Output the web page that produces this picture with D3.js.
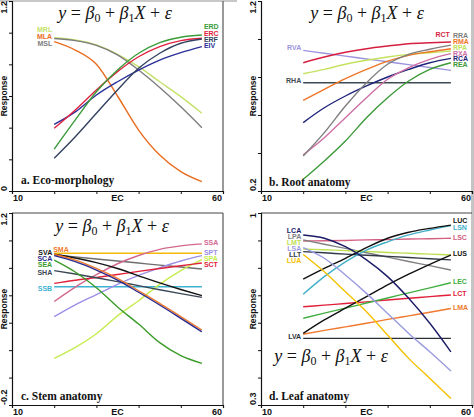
<!DOCTYPE html>
<html><head><meta charset="utf-8">
<script src="https://cdn.jsdelivr.net/npm/d3@7"></script>
<style>body{margin:0;background:#fff}svg{display:block}</style>
</head><body>
<svg id="c" width="474" height="417"></svg>
<script>
// ---------- DATA ----------
const ecPoints = [20, 25, 30, 35, 40, 45, 50, 55];
const xTicks = [10, 20, 30, 40, 50, 60];
const xTickLabels = ["10", "EC", "60"];

const ecoSeries = {
  MRL: [0.968, 0.954, 0.922, 0.863, 0.785, 0.690, 0.596, 0.491],
  MSL: [0.963, 0.950, 0.920, 0.860, 0.764, 0.654, 0.532, 0.400],
  MLA: [0.943, 0.890, 0.800, 0.600, 0.385, 0.227, 0.122, 0.059],
  EIV: [0.421, 0.500, 0.606, 0.690, 0.764, 0.827, 0.874, 0.912],
  ERC: [0.396, 0.512, 0.638, 0.754, 0.848, 0.912, 0.950, 0.965],
  ERF: [0.207, 0.343, 0.491, 0.638, 0.775, 0.870, 0.933, 0.960],
  ERD: [0.265, 0.449, 0.627, 0.764, 0.870, 0.937, 0.971, 0.985]
};
const rootSeries = {
  RVA: [0.940, 0.925, 0.910, 0.895, 0.880, 0.865, 0.850, 0.835],
  RHA: [0.770, 0.770, 0.770, 0.770, 0.770, 0.770, 0.770, 0.770],
  RPA: [0.817, 0.840, 0.867, 0.888, 0.905, 0.919, 0.928, 0.937],
  RMA: [0.677, 0.735, 0.791, 0.840, 0.884, 0.914, 0.933, 0.949],
  RCA: [0.560, 0.638, 0.700, 0.753, 0.800, 0.840, 0.875, 0.898],
  RXA: [0.390, 0.480, 0.586, 0.691, 0.788, 0.849, 0.893, 0.923],
  RRA: [0.384, 0.507, 0.647, 0.770, 0.867, 0.919, 0.946, 0.968],
  REA: [0.261, 0.358, 0.463, 0.586, 0.691, 0.779, 0.840, 0.875],
  RCT: [0.875, 0.905, 0.930, 0.949, 0.963, 0.975, 0.980, 0.984]
};
const stemSeries = {
  SSB: [0.662, 0.662, 0.662, 0.662, 0.662, 0.662, 0.662, 0.662],
  SGL: [0.906, 0.906, 0.906, 0.906, 0.906, 0.906, 0.906, 0.906],
  SGR: [0.894, 0.880, 0.865, 0.850, 0.835, 0.820, 0.806, 0.792],
  SSA: [0.555, 0.660, 0.750, 0.830, 0.890, 0.935, 0.960, 0.975],
  SPT: [0.444, 0.530, 0.605, 0.680, 0.745, 0.800, 0.850, 0.889],
  SPA: [0.140, 0.220, 0.320, 0.450, 0.560, 0.680, 0.780, 0.860],
  SCT: [0.687, 0.710, 0.730, 0.752, 0.774, 0.795, 0.815, 0.835],
  SHA: [0.780, 0.755, 0.728, 0.700, 0.670, 0.640, 0.612, 0.585],
  SVA: [0.899, 0.872, 0.838, 0.795, 0.742, 0.690, 0.642, 0.597],
  SEA: [0.857, 0.770, 0.655, 0.515, 0.390, 0.255, 0.160, 0.104],
  SMA: [0.899, 0.857, 0.797, 0.724, 0.633, 0.541, 0.444, 0.347],
  SCA: [0.889, 0.845, 0.784, 0.711, 0.622, 0.529, 0.432, 0.334]
};
const leafSeries = {
  LVA: [0.543, 0.543, 0.543, 0.543, 0.543, 0.543, 0.543, 0.543],
  LSC: [0.898, 0.899, 0.900, 0.902, 0.903, 0.905, 0.906, 0.908],
  LPA: [0.902, 0.886, 0.871, 0.855, 0.839, 0.823, 0.808, 0.792],
  LMT: [0.869, 0.866, 0.863, 0.860, 0.856, 0.853, 0.850, 0.847],
  LLT: [0.859, 0.855, 0.850, 0.846, 0.842, 0.838, 0.833, 0.829],
  LCT: [0.658, 0.664, 0.670, 0.676, 0.683, 0.689, 0.695, 0.701],
  LMA: [0.558, 0.572, 0.585, 0.598, 0.612, 0.625, 0.638, 0.652],
  LEC: [0.616, 0.635, 0.653, 0.672, 0.690, 0.709, 0.727, 0.746],
  LSN: [0.704, 0.768, 0.822, 0.865, 0.895, 0.920, 0.938, 0.954],
  LUC: [0.759, 0.798, 0.835, 0.874, 0.908, 0.930, 0.944, 0.956],
  LUS: [0.561, 0.610, 0.653, 0.695, 0.738, 0.777, 0.813, 0.847],
  LSA: [0.874, 0.835, 0.774, 0.707, 0.634, 0.561, 0.494, 0.424],
  LUA: [0.849, 0.786, 0.713, 0.640, 0.555, 0.470, 0.397, 0.324],
  LCA: [0.920, 0.908, 0.877, 0.829, 0.768, 0.689, 0.598, 0.494]
};

const panelTitles = ["a. Eco-morphology", "b. Root anatomy", "c. Stem anatomy", "d. Leaf anatomy"];
const yAxisTitle = "Response";

// ---------- STYLES ----------
const colors = {
  MRL: "#c4e26a", MSL: "#7d7d7d", MLA: "#ea6d1f", EIV: "#2b2f98", ERC: "#e0213f", ERF: "#334261", ERD: "#3a9c3a",
  RVA: "#9c94dc", RHA: "#3d4a52", RPA: "#c3e35f", RMA: "#ef7526", RCA: "#1d2379", RXA: "#cf6fa5", RRA: "#7f7f7f", REA: "#3c9a38", RCT: "#d61f3f",
  SSB: "#3fb2d2", SGL: "#f4b90a", SGR: "#6e6e6e", SSA: "#d2688f", SPT: "#9d8ee6", SPA: "#c6ec4e", SCT: "#e0213a", SHA: "#3a4756", SVA: "#141414", SEA: "#3a9b28", SMA: "#f07a2e", SCA: "#2a2a8e",
  LVA: "#2a3138", LSC: "#d25e80", LPA: "#808080", LMT: "#bde052", LLT: "#2f3947", LCT: "#e0203a", LMA: "#f07a30", LEC: "#42ae42", LSN: "#43b0c8", LUC: "#111111", LUS: "#111111", LSA: "#9b9be0", LUA: "#f4c100", LCA: "#1b1b66"
};

const panels = [
  { series: ecoSeries, x0: 12, x1: 223, y0: 1, y1: 191, yDomain: [0, 1.2], yTicks: d3.range(0, 1.21, 0.2), yEnds: ["0", "1.2"],
    eq: [115, 19], title: [21, 184], rightFrame: "#555", topFrame: null,
    groups: [ { side: "L", items: ["MRL", "MLA", "MSL"], gap: 7, dy: -3 },
              { side: "R", items: ["ERD", "ERC", "ERF", "EIV"], gap: 6.3, dy: -3.3 } ] },
  { series: rootSeries, x0: 261, x1: 472, y0: 1, y1: 191, yDomain: [0.2, 1.2], yTicks: d3.range(0.2, 1.21, 0.2), yEnds: ["0.2", "1.2"],
    eq: [367, 19], title: [269, 185.5], rightFrame: null, topFrame: null,
    groups: [ { side: "R", items: ["RRA", "RMA", "RPA", "RXA", "RCA", "REA"], gap: 5.8, dy: -3 },
              { side: "RL", items: ["RCT"], gap: 6, dy: -7 },
              { side: "L", items: ["RVA"], gap: 6, dy: -3 },
              { side: "L", items: ["RHA"], gap: 6, dy: -2 } ] },
  { series: stemSeries, x0: 12, x1: 223, y0: 213, y1: 405, yDomain: [-0.2, 1.2], yTicks: d3.range(-0.2, 1.21, 0.2), yEnds: ["-0.2", "1.2"],
    eq: [112, 232], title: [21, 400], rightFrame: "#555", topFrame: "#444",
    groups: [ { side: "LA", items: ["SMA"], gap: 6, dy: -5 },
              { side: "L", items: ["SVA", "SCA", "SEA", "SHA", "SSB"], gap: 6.3, dy: 2 },
              { side: "R", items: ["SSA", "SPT", "SPA", "SCT"], gap: 6, dy: -1 } ] },
  { series: leafSeries, x0: 261, x1: 472, y0: 213, y1: 405, yDomain: [0.3, 1], yTicks: d3.range(0.3, 1.01, 0.1), yEnds: ["0.3", "1"],
    eq: [331, 362], title: [269, 400], rightFrame: null, topFrame: "#444",
    groups: [ { side: "L", items: ["LCA", "LPA", "LMT", "LSA", "LLT", "LUA"], gap: 6, dy: -1 },
              { side: "L", items: ["LVA"], gap: 6, dy: -2 },
              { side: "R", items: ["LUC", "LSN", "LSC", "LUS", "LEC", "LCT", "LMA"], gap: 7, dy: -1 } ] }
];

// ---------- DRAW ----------
const svg = d3.select("#c");
const SANS = "'Liberation Sans', Arial, sans-serif";
const SERIF = "'Liberation Serif', 'Times New Roman', serif";

// label stacking (pool adjacent violators, keeps given order)
function stack(targets, gap) {
  const blocks = [];
  targets.forEach((t, i) => {
    blocks.push({ start: i, n: 1, sum: t });
    while (blocks.length > 1) {
      const b2 = blocks[blocks.length - 1], b1 = blocks[blocks.length - 2];
      if (b1.sum / b1.n + b1.n * gap > b2.sum / b2.n) {
        b1.sum = b1.sum + b2.sum - b2.n * b1.n * gap;
        b1.n += b2.n;
        blocks.pop();
      } else break;
    }
  });
  const out = [];
  blocks.forEach(b => { const top = b.sum / b.n; for (let k = 0; k < b.n; k++) out.push(top + k * gap); });
  return out;
}

svg.append("rect").attr("x", 0).attr("y", 0).attr("width", 237).attr("height", 2).attr("fill", "#c8c8c8");
svg.append("rect").attr("x", 471).attr("y", 0).attr("width", 3).attr("height", 406).attr("fill", "#c4c4c4");

panels.forEach((p, pi) => {
  const g = svg.append("g");
  const x = d3.scaleLinear().domain([10, 60]).range([p.x0, p.x1]);
  const y = d3.scaleLinear().domain(p.yDomain).range([p.y1, p.y0]);

  // frames
  if (p.topFrame) g.append("line").attr("x1", p.x0).attr("x2", p.x1).attr("y1", p.y0).attr("y2", p.y0).attr("stroke", p.topFrame).attr("stroke-width", 1);
  if (p.rightFrame) g.append("line").attr("x1", p.x1).attr("x2", p.x1).attr("y1", p.y0).attr("y2", p.y1).attr("stroke", p.rightFrame).attr("stroke-width", 1.2);

  // axes
  const ax = g.append("g").attr("transform", `translate(0,${p.y1})`)
    .call(d3.axisBottom(x).tickValues(xTicks).tickSize(3).tickFormat(""));
  const ay = g.append("g").attr("transform", `translate(${p.x0},0)`)
    .call(d3.axisLeft(y).tickValues(p.yTicks).tickSize(3).tickFormat(""));
  [ax, ay].forEach(a => { a.select(".domain").attr("stroke", "#111").attr("stroke-width", 1.2); a.selectAll(".tick line").attr("stroke", "#111"); });

  // x labels
  const xl = g.append("g").attr("font-family", SANS).attr("font-weight", "bold").attr("font-size", 9).attr("fill", "#111");
  xl.append("text").attr("x", x(10) + 1).attr("y", p.y1 + 10).attr("text-anchor", "start").text(xTickLabels[0]);
  xl.append("text").attr("x", (p.x0 + p.x1) / 2).attr("y", p.y1 + 10).attr("text-anchor", "middle").text(xTickLabels[1]);
  xl.append("text").attr("x", x(60) - 1).attr("y", p.y1 + 10).attr("text-anchor", "end").text(xTickLabels[2]);

  // y end labels + title
  const yx = p.x0 - 8;
  xl.append("text").attr("transform", `translate(${yx},${y(p.yDomain[0])}) rotate(-90)`).attr("dy", "0.35em").attr("text-anchor", "start").text(p.yEnds[0]);
  xl.append("text").attr("transform", `translate(${yx},${y(p.yDomain[1])}) rotate(-90)`).attr("dy", "0.35em").attr("text-anchor", "end").text(p.yEnds[1]);
  xl.append("text").attr("transform", `translate(${yx},${(p.y0 + p.y1) / 2}) rotate(-90)`).attr("dy", "0.35em").attr("text-anchor", "middle").attr("font-size", 8.5).text(yAxisTitle);

  // lines
  const line = d3.line().x((d, i) => x(ecPoints[i])).y(d => y(d)).curve(d3.curveMonotoneX);
  Object.entries(p.series).forEach(([name, vals]) => {
    g.append("path").attr("d", line(vals)).attr("fill", "none").attr("stroke", colors[name]).attr("stroke-width", 1.4);
  });

  // line labels
  p.groups.forEach(gr => {
    const first = gr.side === "L" || gr.side === "LA";
    const targets = gr.items.map(n => y(first ? p.series[n][0] : p.series[n][ecPoints.length - 1]));
    const ys = stack(targets, gr.gap);
    const xs = { L: x(20) - 2, LA: x(20) - 1, R: x(55) + 2, RL: x(55) - 1 }[gr.side];
    const anchor = { L: "end", LA: "start", R: "start", RL: "end" }[gr.side];
    gr.items.forEach((n, k) => {
      g.append("text").attr("x", xs).attr("y", ys[k] + gr.dy).attr("dy", "0.35em")
        .attr("text-anchor", anchor).attr("font-family", SANS).attr("font-weight", "bold").attr("font-size", 7)
        .attr("fill", colors[n]).text(n);
    });
  });

  // equation
  const eq = g.append("text").attr("x", p.eq[0]).attr("y", p.eq[1]).attr("text-anchor", "middle")
    .attr("font-family", SERIF).attr("font-size", 18).attr("fill", "#111");
  eq.append("tspan").attr("font-style", "italic").text("y");
  eq.append("tspan").text(" = ");
  eq.append("tspan").attr("font-style", "italic").text("β");
  eq.append("tspan").attr("font-size", 12).attr("dy", 3).text("0");
  eq.append("tspan").attr("dy", -3).text(" + ");
  eq.append("tspan").attr("font-style", "italic").text("β");
  eq.append("tspan").attr("font-size", 12).attr("dy", 3).text("1");
  eq.append("tspan").attr("dy", -3).attr("font-style", "italic").text("X");
  eq.append("tspan").text(" + ");
  eq.append("tspan").attr("font-style", "italic").text("ε");

  // panel title
  g.append("text").attr("x", p.title[0]).attr("y", p.title[1]).attr("font-family", SERIF)
    .attr("font-weight", "bold").attr("font-size", 11.5).attr("fill", "#111").text(panelTitles[pi]);
});
</script>
</body></html>
